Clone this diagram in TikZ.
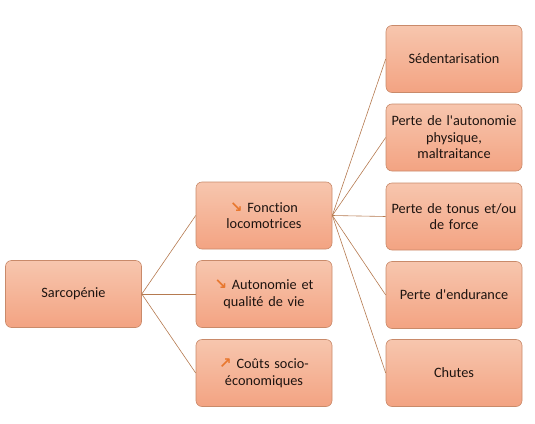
\documentclass[tikz,border=0pt]{standalone}
\usepackage{fontspec}
\setmainfont{Carlito}[Ligatures={NoCommon}]
\newfontfamily\arrowfont{DejaVu Sans}
\definecolor{boxtop}{HTML}{F7C6AE}
\definecolor{boxbot}{HTML}{F3A382}
\definecolor{boxline}{HTML}{C98A6A}
\definecolor{linkline}{HTML}{B57A50}
\definecolor{arrowor}{HTML}{E8772E}
\definecolor{txt}{HTML}{1E1410}
\newcommand{\dnarrow}{{\arrowfont\bfseries\textcolor{arrowor}{\fontsize{15}{15}\selectfont ↘}}}
\newcommand{\uparrowor}{{\arrowfont\bfseries\textcolor{arrowor}{\fontsize{15}{15}\selectfont ↗}}}

\begin{document}
\begin{tikzpicture}[x=1pt,y=-1pt,
  box/.style={draw=boxline,line width=.6pt,rounded corners=6pt,top color=boxtop,bottom color=boxbot,
    minimum width=136pt,minimum height=67pt,text width=130pt,align=center,inner sep=2pt,
    text=txt,font=\fontsize{14.3}{16.5}\selectfont},
  link/.style={draw=linkline,line width=.6pt}]
\useasboundingbox (0,0) rectangle (535,423);

\node[box] (sarco) at (73.5,294) {Sarcopénie};

\node[box] (fonction) at (264,215.5) {\dnarrow\ Fonction\\locomotrices};
\node[box] (autonomie) at (264,294) {\dnarrow\ Autonomie et\\qualité de vie};
\node[box] (couts) at (264,373) {\uparrowor\ Coûts socio-\\économiques};

\node[box] (sedent) at (454,59) {Sédentarisation};
\node[box] (perteauto) at (454,137.5) {Perte de l\textquotesingle autonomie\\physique,\\maltraitance};
\node[box] (tonus) at (454,216.5) {Perte de tonus et/ou\\de force};
\node[box] (endur) at (454,295) {Perte d\textquotesingle endurance};
\node[box] (chutes) at (454,373) {Chutes};

\draw[link] (sarco.east) -- (fonction.west);
\draw[link] (sarco.east) -- (autonomie.west);
\draw[link] (sarco.east) -- (couts.west);

\draw[link] (fonction.east) -- (sedent.west);
\draw[link] (fonction.east) -- (perteauto.west);
\draw[link] (fonction.east) -- (tonus.west);
\draw[link] (fonction.east) -- (endur.west);
\draw[link] (fonction.east) -- (chutes.west);
\end{tikzpicture}
\end{document}
